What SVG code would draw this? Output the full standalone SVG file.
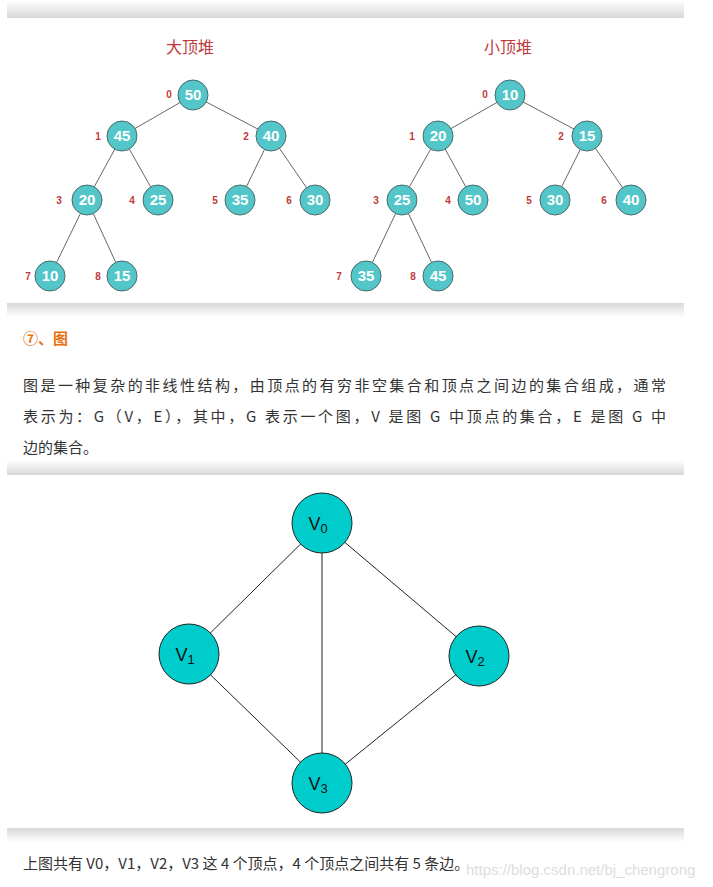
<svg xmlns="http://www.w3.org/2000/svg" width="713" height="887" viewBox="0 0 713 887">
<defs>
<linearGradient id="down" x1="0" y1="0" x2="0" y2="1"><stop offset="0" stop-color="#fff"/><stop offset="1" stop-color="#d8d8d8"/></linearGradient>
<linearGradient id="up" x1="0" y1="0" x2="0" y2="1"><stop offset="0" stop-color="#d8d8d8"/><stop offset="1" stop-color="#fff"/></linearGradient>
<style>
.h{fill:#52c6c9;stroke:#4a6a6b;stroke-width:1}
.hv{font-family:"Liberation Sans",Arial,sans-serif;font-weight:bold;font-size:15px;fill:#fff;text-anchor:middle}
.ix{font-family:"Liberation Sans",Arial,sans-serif;font-weight:bold;font-size:10px;fill:#c0393b;text-anchor:middle}
.e{stroke:#666;stroke-width:1;fill:none}
.g{fill:#00cccc;stroke:#222;stroke-width:1}
.gv{font-family:"Liberation Sans",Arial,sans-serif;font-size:18px;fill:#111;text-anchor:middle}
.t{font-family:"Noto Sans CJK SC","Liberation Sans",sans-serif;font-size:15px;fill:#333}
.ti{font-family:"Noto Sans CJK SC",sans-serif;font-size:16px;fill:#c0393b;text-anchor:middle}
</style>
</defs>
<rect width="713" height="887" fill="#fff"/>
<rect x="7" y="0" width="677" height="18" fill="url(#down)"/>
<rect x="7" y="303" width="677" height="14" fill="url(#up)"/>
<rect x="7" y="460" width="677" height="15" fill="url(#down)"/>
<rect x="7" y="828" width="677" height="14" fill="url(#up)"/>
<text class="ti" x="190" y="53">大顶堆</text>
<text class="ti" x="508" y="53">小顶堆</text>
<g id="edges">
<path class="e" d="M193 95L122 136M193 95L271 136M122 136L87 200M122 136L158 200M271 136L240 200M271 136L315 200M87 200L50 276M87 200L122 276"/>
<path class="e" d="M510 95L438 136M510 95L587 136M438 136L402 200M438 136L473 200M587 136L555 200M587 136L631 200M402 200L366 276M402 200L438 276"/>
<path d="M322 523L189 654M322 523L479 656M322 523L322 783M189 654L322 783M479 656L322 783" stroke="#222" stroke-width="1"/>
</g>
<g id="bigheap">
<g id="b0"><circle class="h" cx="193" cy="95" r="15"/><text class="hv" x="193" y="100">50</text><text class="ix" x="169" y="98">0</text></g>
<g id="b1"><circle class="h" cx="122" cy="136" r="15"/><text class="hv" x="122" y="141">45</text><text class="ix" x="98" y="140">1</text></g>
<g id="b2"><circle class="h" cx="271" cy="136" r="15"/><text class="hv" x="271" y="141">40</text><text class="ix" x="246" y="140">2</text></g>
<g id="b3"><circle class="h" cx="87" cy="200" r="15"/><text class="hv" x="87" y="205">20</text><text class="ix" x="59" y="204">3</text></g>
<g id="b4"><circle class="h" cx="158" cy="200" r="15"/><text class="hv" x="158" y="205">25</text><text class="ix" x="132" y="204">4</text></g>
<g id="b5"><circle class="h" cx="240" cy="200" r="15"/><text class="hv" x="240" y="205">35</text><text class="ix" x="215" y="204">5</text></g>
<g id="b6"><circle class="h" cx="315" cy="200" r="15"/><text class="hv" x="315" y="205">30</text><text class="ix" x="289" y="204">6</text></g>
<g id="b7"><circle class="h" cx="50" cy="276" r="15"/><text class="hv" x="50" y="281">10</text><text class="ix" x="28" y="280">7</text></g>
<g id="b8"><circle class="h" cx="122" cy="276" r="15"/><text class="hv" x="122" y="281">15</text><text class="ix" x="98" y="280">8</text></g>
</g>
<g id="smallheap">
<g id="s0"><circle class="h" cx="510" cy="95" r="15"/><text class="hv" x="510" y="100">10</text><text class="ix" x="485" y="98">0</text></g>
<g id="s1"><circle class="h" cx="438" cy="136" r="15"/><text class="hv" x="438" y="141">20</text><text class="ix" x="412" y="140">1</text></g>
<g id="s2"><circle class="h" cx="587" cy="136" r="15"/><text class="hv" x="587" y="141">15</text><text class="ix" x="561" y="140">2</text></g>
<g id="s3"><circle class="h" cx="402" cy="200" r="15"/><text class="hv" x="402" y="205">25</text><text class="ix" x="376" y="204">3</text></g>
<g id="s4"><circle class="h" cx="473" cy="200" r="15"/><text class="hv" x="473" y="205">50</text><text class="ix" x="448" y="204">4</text></g>
<g id="s5"><circle class="h" cx="555" cy="200" r="15"/><text class="hv" x="555" y="205">30</text><text class="ix" x="529" y="204">5</text></g>
<g id="s6"><circle class="h" cx="631" cy="200" r="15"/><text class="hv" x="631" y="205">40</text><text class="ix" x="604" y="204">6</text></g>
<g id="s7"><circle class="h" cx="366" cy="276" r="15"/><text class="hv" x="366" y="281">35</text><text class="ix" x="339" y="280">7</text></g>
<g id="s8"><circle class="h" cx="438" cy="276" r="15"/><text class="hv" x="438" y="281">45</text><text class="ix" x="413" y="280">8</text></g>
</g>
<text x="23" y="344" font-family="'Noto Sans CJK SC',sans-serif" font-size="15" font-weight="bold" fill="#e8700e">⑦、图</text>
<text class="t" x="23" y="391" textLength="643" lengthAdjust="spacing">图是一种复杂的非线性结构，由顶点的有穷非空集合和顶点之间边的集合组成，通常</text>
<text class="t" x="23" y="422" textLength="643" lengthAdjust="spacing">表示为：G（V，E），其中，G 表示一个图，V 是图 G 中顶点的集合，E 是图 G 中</text>
<text class="t" x="23" y="453">边的集合。</text>
<g id="V0"><circle class="g" cx="322" cy="523" r="30"/><text class="gv" x="318" y="530">V<tspan font-size="13" dy="3">0</tspan></text></g>
<g id="V1"><circle class="g" cx="189" cy="654" r="30"/><text class="gv" x="185" y="661">V<tspan font-size="13" dy="3">1</tspan></text></g>
<g id="V2"><circle class="g" cx="479" cy="656" r="30"/><text class="gv" x="475" y="663">V<tspan font-size="13" dy="3">2</tspan></text></g>
<g id="V3"><circle class="g" cx="322" cy="783" r="30"/><text class="gv" x="318" y="790">V<tspan font-size="13" dy="3">3</tspan></text></g>
<text class="t" x="23" y="869">上图共有 V0，V1，V2，V3 这 4 个顶点，4 个顶点之间共有 5 条边。</text>
<text x="466" y="875" font-family="'Liberation Sans',sans-serif" font-size="15" fill="#ddd">https://blog.csdn.net/bj_chengrong</text>
</svg>
